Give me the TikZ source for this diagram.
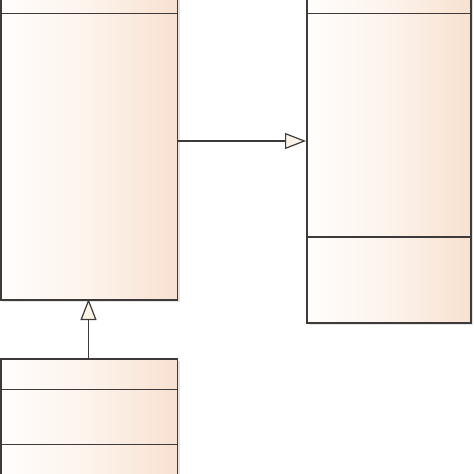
\documentclass[tikz,border=0pt]{standalone}
\usetikzlibrary{arrows.meta}
\definecolor{lineclr}{HTML}{3E3A3A}
\definecolor{gradL}{HTML}{FFFDFB}
\definecolor{gradR}{HTML}{F8E1D0}
\definecolor{tipfill}{HTML}{FCF3E6}
\definecolor{shadowclr}{HTML}{E4E4E4}
\tikzset{
  classbox/.style={draw=lineclr, line width=1.6pt, rectangle, inner sep=0pt, left color=gradL, right color=gradR, middle color=gradR!35!gradL},
  sep/.style={draw=lineclr, line width=1.6pt},
  gen/.style={draw=lineclr, line width=1.2pt, -{Triangle[open, length=21pt, width=16pt, fill=tipfill]}}
}
\begin{document}
\begin{tikzpicture}[x=1pt,y=-1pt]
\useasboundingbox (0,0) rectangle (474,474);
\clip (0,0) rectangle (474,474);
% shadows
\fill[shadowclr] (3,-20) rectangle (179.5,302);
\fill[shadowclr] (309,-20) rectangle (473,325);
\fill[shadowclr] (3,361) rectangle (179.5,500);
% boxes
\node[classbox, minimum width=176pt, minimum height=319pt, anchor=north west] (A) at (0.5,-20) {};
\node[classbox, minimum width=164pt, minimum height=342pt, anchor=north west] (B) at (306,-20) {};
\node[classbox, minimum width=176pt, minimum height=150pt, anchor=north west] (C) at (0.5,358) {};
% compartments
\draw[sep] (A.west |- 0,13.5) -- (A.east |- 0,13.5);
\draw[sep] (B.west |- 0,13.5) -- (B.east |- 0,13.5);
\draw[sep] (B.west |- 0,237) -- (B.east |- 0,237);
\draw[sep] (C.west |- 0,389.5) -- (C.east |- 0,389.5);
\draw[sep] (C.west |- 0,444.5) -- (C.east |- 0,444.5);
% connectors
\coordinate (aout) at (A.east |- 0,141);
\coordinate (bin) at (B.west |- 0,141);
\draw[gen] (aout) -- (bin);
\coordinate (cout) at (88.5,358);
\coordinate (ain) at (88.5,299);
\draw[gen] (cout) -- (ain);
\end{tikzpicture}
\end{document}
